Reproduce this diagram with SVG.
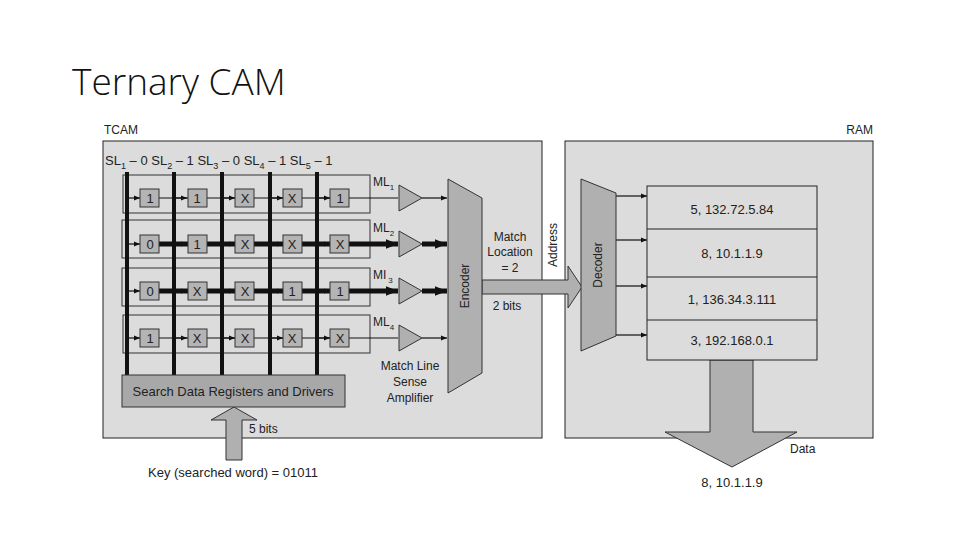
<svg xmlns="http://www.w3.org/2000/svg" width="960" height="540" viewBox="0 0 960 540">
<defs>
<style>
text{font-family:"Liberation Sans",Arial,sans-serif;fill:#222}
.s{font-size:12px}
.c{font-size:13px;text-anchor:middle}
.cell{fill:#b4b4b4;stroke:#333;stroke-width:1}
.row{fill:none;stroke:#333;stroke-width:1}
.sl{stroke:#111;stroke-width:4}
.ml{stroke:#111;stroke-width:1.2}
.mlt{stroke:#111;stroke-width:5}
.g{fill:#b0b0b0;stroke:#333;stroke-width:1}
</style>
<marker id="a" viewBox="0 0 10 10" refX="10" refY="5" markerWidth="8" markerHeight="6" orient="auto" markerUnits="userSpaceOnUse"><path d="M0,1L10,5L0,9z" fill="#111"/></marker>
<marker id="at" viewBox="0 0 10 10" refX="10" refY="5" markerWidth="16" markerHeight="12" orient="auto" markerUnits="userSpaceOnUse"><path d="M0,1L10,5L0,9z" fill="#111"/></marker>
</defs>
<rect width="960" height="540" fill="#fff"/>
<text x="72" y="95" style="font-family:'Open Sans','Liberation Sans',sans-serif;font-weight:300;font-size:37px;fill:#111">Ternary CAM</text>
<rect x="103" y="141" width="439" height="297" fill="#dcdcdc" stroke="#222"/>
<rect x="565" y="141" width="308" height="297" fill="#dcdcdc" stroke="#222"/>
<text x="104" y="134" class="s">TCAM</text>
<text x="873" y="134" class="s" text-anchor="end">RAM</text>
<text x="105" y="165" style="font-size:13px">SL<tspan dy="4" font-size="9">1</tspan><tspan dy="-4"> – 0 SL</tspan><tspan dy="4" font-size="9">2</tspan><tspan dy="-4"> – 1 SL</tspan><tspan dy="4" font-size="9">3</tspan><tspan dy="-4"> – 0 SL</tspan><tspan dy="4" font-size="9">4</tspan><tspan dy="-4"> – 1 SL</tspan><tspan dy="4" font-size="9">5</tspan><tspan dy="-4"> – 1</tspan></text>
<g id="rows">
<rect class="row" x="123" y="175" width="247" height="38"/>
<rect class="row" x="122" y="220" width="248" height="38"/>
<rect class="row" x="122" y="268" width="248" height="38"/>
<rect class="row" x="123" y="315" width="247" height="38"/>
</g>
<g id="connectors">
<g class="sl"><line x1="127" y1="172" x2="127" y2="375"/><line x1="174" y1="172" x2="174" y2="375"/><line x1="222" y1="172" x2="222" y2="375"/><line x1="270" y1="172" x2="270" y2="375"/><line x1="317" y1="172" x2="317" y2="375"/></g>
<g class="ml">
<line x1="159" y1="198" x2="398" y2="198"/>
<line x1="159" y1="338" x2="398" y2="338"/>
<line x1="422" y1="198" x2="447" y2="198" marker-end="url(#a)"/>
<line x1="422" y1="338" x2="447" y2="338" marker-end="url(#a)"/>
</g>
<g class="mlt">
<line x1="159" y1="244" x2="398" y2="244" marker-end="url(#at)"/>
<line x1="159" y1="291" x2="398" y2="291" marker-end="url(#at)"/>
<line x1="422" y1="244" x2="447" y2="244" marker-end="url(#at)"/>
<line x1="422" y1="291" x2="447" y2="291" marker-end="url(#at)"/>
</g>
<g class="ml">
<line x1="127" y1="198" x2="140" y2="198" marker-end="url(#a)"/><line x1="174" y1="198" x2="187" y2="198" marker-end="url(#a)"/><line x1="222" y1="198" x2="235" y2="198" marker-end="url(#a)"/><line x1="270" y1="198" x2="283" y2="198" marker-end="url(#a)"/><line x1="317" y1="198" x2="330" y2="198" marker-end="url(#a)"/>
<line x1="127" y1="244" x2="140" y2="244" marker-end="url(#a)"/><line x1="174" y1="244" x2="187" y2="244" marker-end="url(#a)"/><line x1="222" y1="244" x2="235" y2="244" marker-end="url(#a)"/><line x1="270" y1="244" x2="283" y2="244" marker-end="url(#a)"/><line x1="317" y1="244" x2="330" y2="244" marker-end="url(#a)"/>
<line x1="127" y1="291" x2="140" y2="291" marker-end="url(#a)"/><line x1="174" y1="291" x2="187" y2="291" marker-end="url(#a)"/><line x1="222" y1="291" x2="235" y2="291" marker-end="url(#a)"/><line x1="270" y1="291" x2="283" y2="291" marker-end="url(#a)"/><line x1="317" y1="291" x2="330" y2="291" marker-end="url(#a)"/>
<line x1="127" y1="338" x2="140" y2="338" marker-end="url(#a)"/><line x1="174" y1="338" x2="187" y2="338" marker-end="url(#a)"/><line x1="222" y1="338" x2="235" y2="338" marker-end="url(#a)"/><line x1="270" y1="338" x2="283" y2="338" marker-end="url(#a)"/><line x1="317" y1="338" x2="330" y2="338" marker-end="url(#a)"/>
<line x1="616" y1="196" x2="647" y2="196" marker-end="url(#a)"/>
<line x1="616" y1="240" x2="647" y2="240" marker-end="url(#a)"/>
<line x1="616" y1="286" x2="647" y2="286" marker-end="url(#a)"/>
<line x1="616" y1="335" x2="647" y2="335" marker-end="url(#a)"/>
</g>
<path class="g" d="M482,280H568V266L582,287L568,308V294H482Z"/>
<path class="g" d="M226,460V420H211L234,407L257,420H242V460Z"/>
<path class="g" d="M710,360H753V432H797L732,467L665,432H710Z"/>
</g>
<g id="cells">
<g class="cell">
<rect x="140" y="189" width="19" height="18"/><rect x="188" y="189" width="19" height="18"/><rect x="235" y="189" width="19" height="18"/><rect x="283" y="189" width="19" height="18"/><rect x="330" y="189" width="19" height="18"/>
<rect x="140" y="235" width="19" height="18"/><rect x="188" y="235" width="19" height="18"/><rect x="235" y="235" width="19" height="18"/><rect x="283" y="235" width="19" height="18"/><rect x="330" y="235" width="19" height="18"/>
<rect x="140" y="282" width="19" height="18"/><rect x="188" y="282" width="19" height="18"/><rect x="235" y="282" width="19" height="18"/><rect x="283" y="282" width="19" height="18"/><rect x="330" y="282" width="19" height="18"/>
<rect x="140" y="329" width="19" height="18"/><rect x="188" y="329" width="19" height="18"/><rect x="235" y="329" width="19" height="18"/><rect x="283" y="329" width="19" height="18"/><rect x="330" y="329" width="19" height="18"/>
</g>
<g class="c">
<text x="150" y="203">1</text><text x="197" y="203">1</text><text x="245" y="203">X</text><text x="292" y="203">X</text><text x="340" y="203">1</text>
<text x="150" y="249">0</text><text x="197" y="249">1</text><text x="245" y="249">X</text><text x="292" y="249">X</text><text x="340" y="249">X</text>
<text x="150" y="296">0</text><text x="197" y="296">X</text><text x="245" y="296">X</text><text x="292" y="296">1</text><text x="340" y="296">1</text>
<text x="150" y="343">1</text><text x="197" y="343">X</text><text x="245" y="343">X</text><text x="292" y="343">X</text><text x="340" y="343">X</text>
</g>
</g>
<g id="amps">
<path class="g" d="M399,185L422,198L399,211Z"/>
<path class="g" d="M399,231L422,244L399,257Z"/>
<path class="g" d="M399,278L422,291L399,304Z"/>
<path class="g" d="M399,325L422,338L399,351Z"/>
<g style="font-size:12px">
<text x="373" y="186">ML<tspan dy="4" font-size="8">1</tspan></text>
<text x="373" y="232">ML<tspan dy="4" font-size="8">2</tspan></text>
<text x="373" y="279">MI<tspan dx="2" dy="4" font-size="8">3</tspan></text>
<text x="373" y="326">ML<tspan dy="4" font-size="8">4</tspan></text>
</g>
<text class="s" text-anchor="middle" x="410" y="370">Match Line</text>
<text class="s" text-anchor="middle" x="410" y="386">Sense</text>
<text class="s" text-anchor="middle" x="410" y="402">Amplifier</text>
</g>
<g id="encoder">
<path class="g" d="M448,179L482,198V373L448,393Z"/>
<text class="s" text-anchor="middle" transform="translate(469,286) rotate(-90)">Encoder</text>
</g>
<text class="s" text-anchor="middle" x="510" y="241">Match</text>
<text class="s" text-anchor="middle" x="510" y="256">Location</text>
<text class="s" text-anchor="middle" x="510" y="272">= 2</text>
<text class="s" text-anchor="middle" x="507" y="310">2 bits</text>
<text class="s" text-anchor="middle" transform="translate(557,245) rotate(-90)">Address</text>
<g id="decoder">
<path class="g" d="M581,179L616,193V336L581,351Z"/>
<text class="s" text-anchor="middle" transform="translate(602,265) rotate(-90)">Decoder</text>
</g>
<g id="ram">
<rect x="647" y="186" width="170" height="174" fill="#dcdcdc" stroke="#222"/>
<line x1="647" y1="229" x2="817" y2="229" stroke="#222"/>
<line x1="647" y1="277" x2="817" y2="277" stroke="#222"/>
<line x1="647" y1="320" x2="817" y2="320" stroke="#222"/>
<g class="c">
<text x="732" y="214">5, 132.72.5.84</text>
<text x="732" y="258">8, 10.1.1.9</text>
<text x="732" y="304">1, 136.34.3.111</text>
<text x="732" y="345">3, 192.168.0.1</text>
</g>
</g>
<text class="s" x="790" y="453">Data</text>
<text class="c" x="732" y="487">8, 10.1.1.9</text>
<g id="registers">
<rect x="122" y="375" width="223" height="32" fill="#a8a8a8" stroke="#333"/>
<text class="c" x="233" y="396">Search Data Registers and Drivers</text>
</g>
<text class="s" x="249" y="433">5 bits</text>
<text class="c" x="233" y="477">Key (searched word) = 01011</text>
</svg>
